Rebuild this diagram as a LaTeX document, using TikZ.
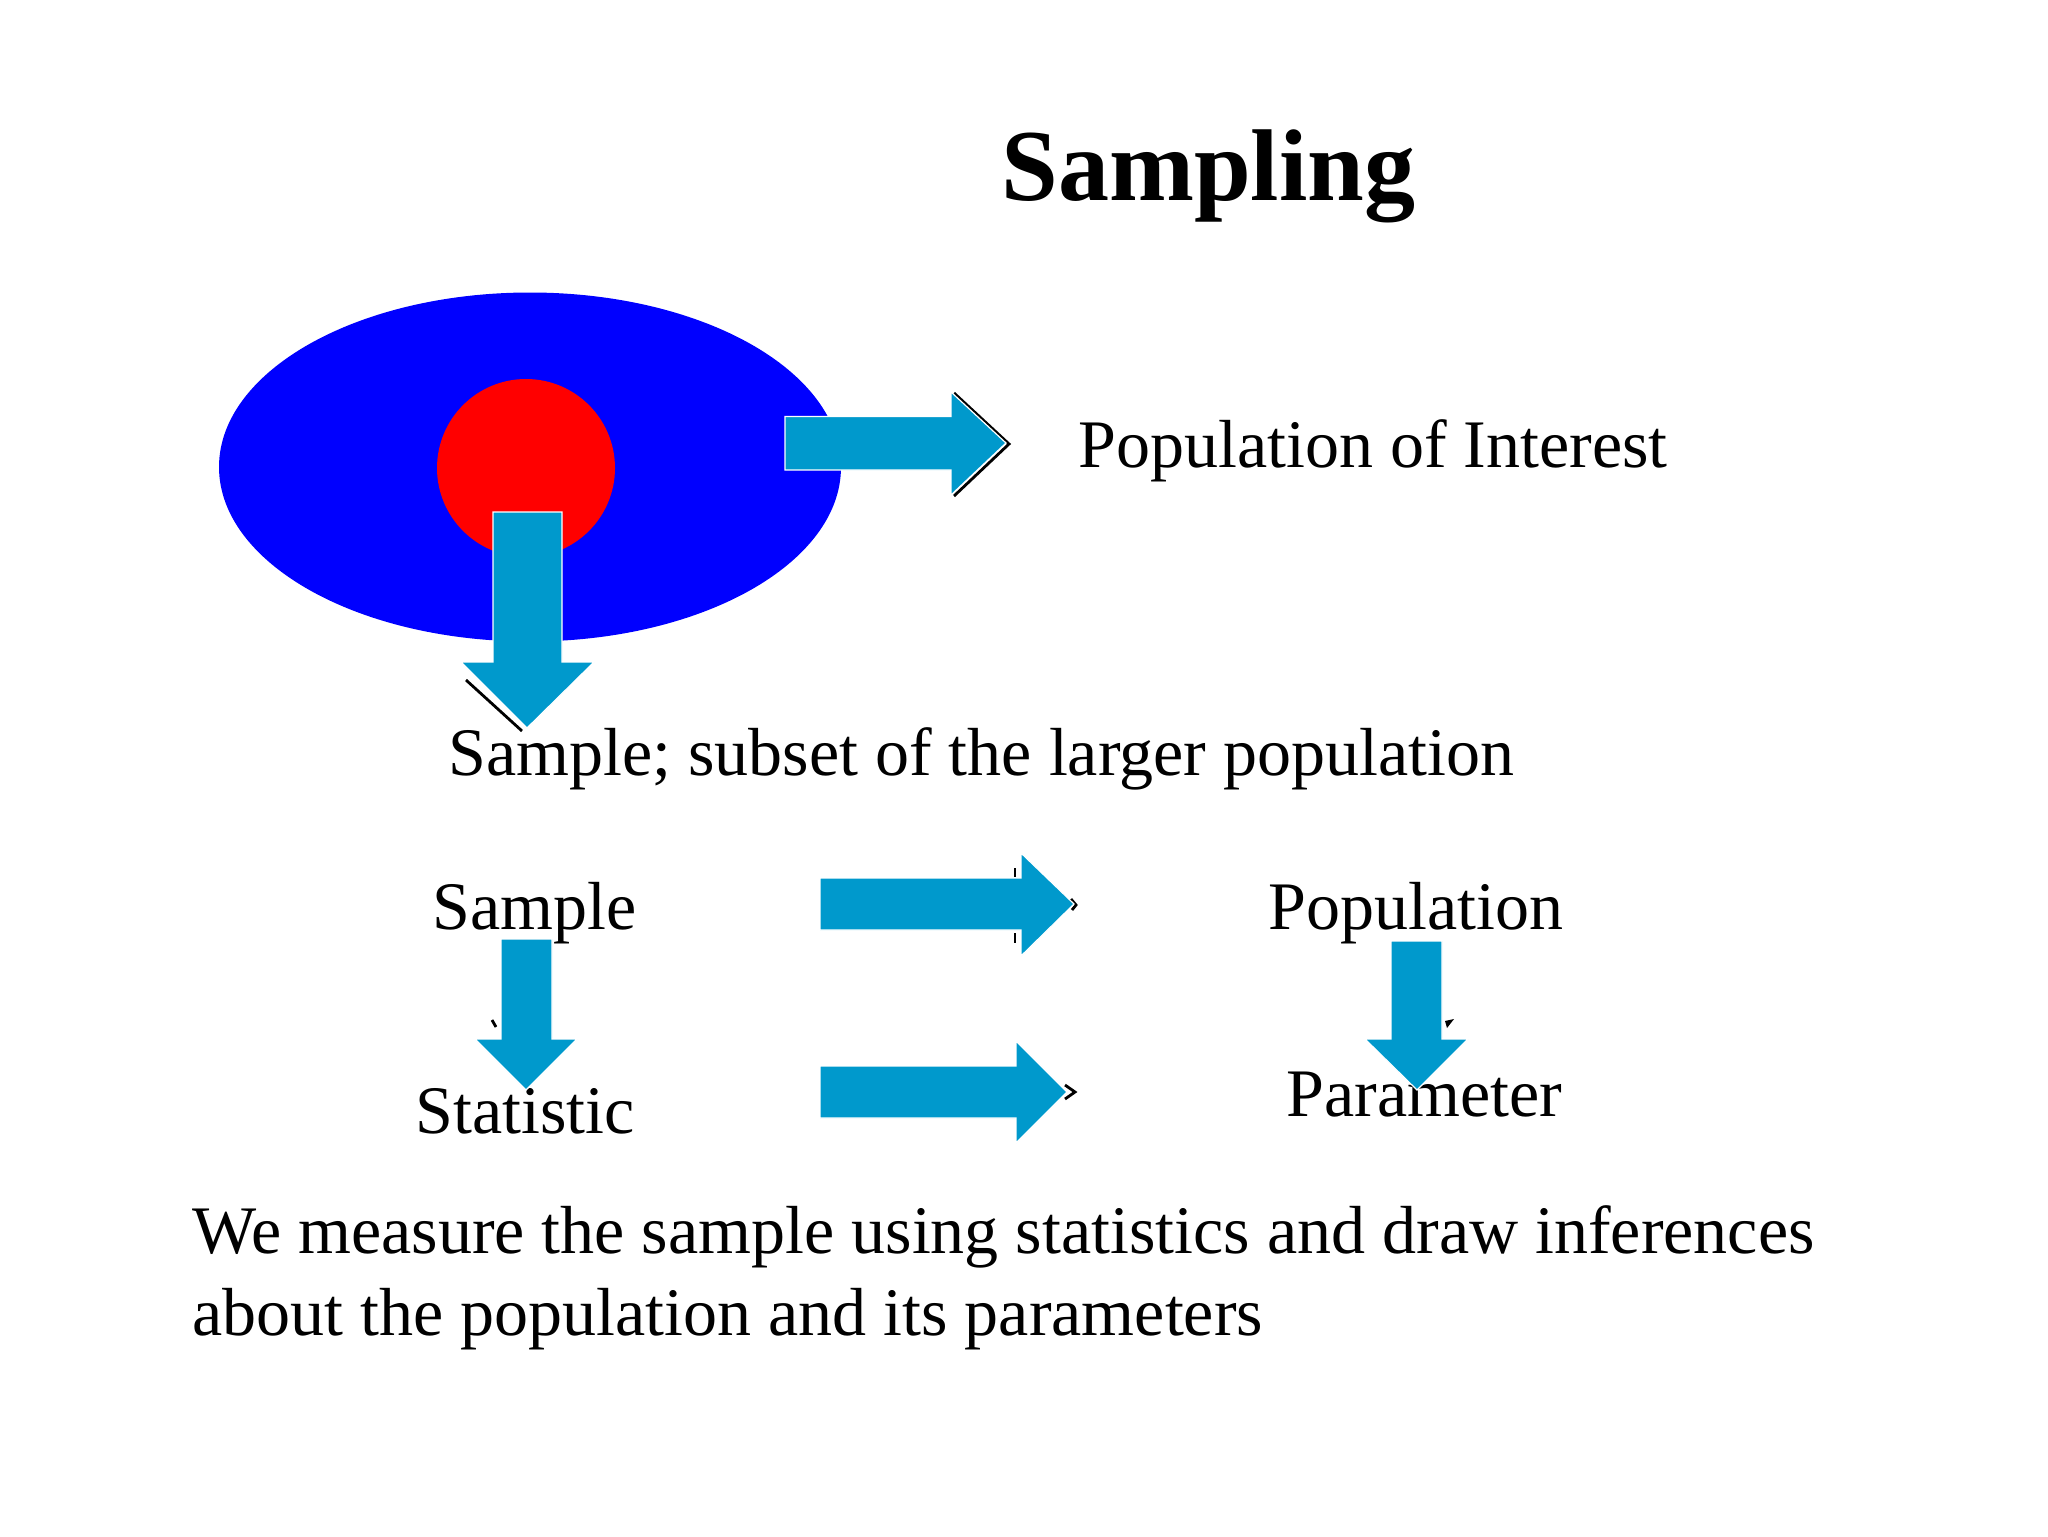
\documentclass[tikz,border=0pt]{standalone}
\usepackage{fontspec}
\setmainfont{Liberation Serif}
\definecolor{arrowblue}{RGB}{0,153,204}
\definecolor{popblue}{RGB}{0,0,255}
\definecolor{samplered}{RGB}{255,0,0}
\tikzset{
  blockarrow/.style={fill=arrowblue, draw=white, line width=0.6pt, line join=miter},
  shadowline/.style={draw=black, line width=1.4pt},
  txt/.style={inner sep=0pt, anchor=base west, font=\fontsize{34}{40}\selectfont},
  titletxt/.style={inner sep=0pt, anchor=base west, font=\fontsize{51}{60}\selectfont\bfseries}
}
\begin{document}
\begin{tikzpicture}[x=0.5pt,y=-0.5pt]
\useasboundingbox[fill=white] (0,0) rectangle (2048,1536);

% title
\node[titletxt] (title) at (1001,200) {Sampling};

% population and sample
\fill[popblue] (530,467) ellipse [x radius=155.5pt, y radius=87.25pt];
\fill[samplered] (526,468) circle [radius=44.5pt];

% arrow: ellipse -> Population of Interest
\draw[shadowline] (954,393) -- (1009,444) -- (954,496);
\path[blockarrow] (785,416.5) -- (951,416.5) -- (951,392) -- (1006,443)
  -- (951,495) -- (951,470) -- (785,470) -- cycle;

% arrow: sample -> text
\draw[shadowline] (466,680) -- (522,731);
\path[blockarrow] (493,512) -- (562,512) -- (562,662) -- (594,662) -- (527,728)
  -- (461,662) -- (493,662) -- cycle;

\node[txt] (poi) at (1078,467) {Population of Interest};
\node[txt] (subset) at (448,775) {Sample; subset of the larger population};

% lower block
\node[txt] (sample) at (432,929) {Sample};
\node[txt] (population) at (1268,929) {Population};
\node[txt] (statistic) at (415,1133) {Statistic};
\node[txt] (parameter) at (1286,1116) {Parameter};

% small shadow slivers
\draw[shadowline] (1015,868) -- (1015,877);
\draw[shadowline] (1015,933) -- (1015,943);
\draw[shadowline] (1071,899) -- (1076,905) -- (1072,910);
\draw[shadowline] (1065,1085) -- (1075,1092) -- (1065,1099);
\draw[shadowline] (492,1020) -- (496,1027);
\fill[black] (1445,1021) -- (1454,1019) -- (1447,1028) -- cycle;

% Sample -> Population
\path[blockarrow] (820,878) -- (1021,878) -- (1021,853) -- (1074,904)
  -- (1021,956) -- (1021,930) -- (820,930) -- cycle;
% Statistic -> Parameter
\path[blockarrow] (820,1066) -- (1016,1066) -- (1016,1041) -- (1067,1092)
  -- (1016,1143) -- (1016,1118) -- (820,1118) -- cycle;
% Sample -> Statistic
\path[blockarrow] (501,939) -- (552,939) -- (552,1039) -- (577,1039) -- (526,1090)
  -- (475,1039) -- (501,1039) -- cycle;
% Population -> Parameter
\path[blockarrow] (1391,941) -- (1442,941) -- (1442,1039) -- (1468,1039) -- (1417,1090)
  -- (1365,1039) -- (1391,1039) -- cycle;

% conclusion
\node[txt] (para1) at (192,1253) {We measure the sample using statistics and draw inferences};
\node[txt] (para2) at (192,1335) {about the population and its parameters};
\end{tikzpicture}
\end{document}
